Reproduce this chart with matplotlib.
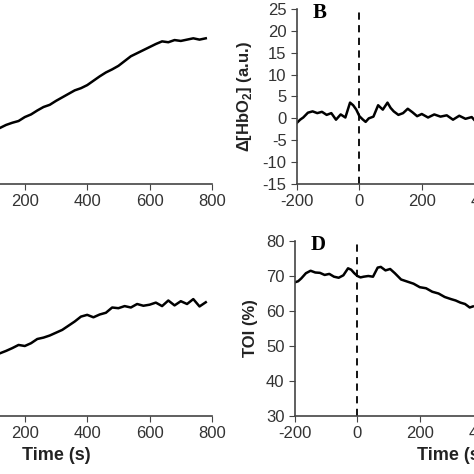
import matplotlib
matplotlib.use("Agg")
import matplotlib.pyplot as plt

plt.rcParams['font.family'] = ['Liberation Sans', 'DejaVu Sans']
plt.rcParams['axes.unicode_minus'] = False
plt.rcParams['mathtext.fontset'] = 'custom'
plt.rcParams['mathtext.rm'] = 'Liberation Sans'
plt.rcParams['mathtext.bf'] = 'Liberation Sans:bold'

# Panel A (left top)
a_t = [0, 20, 40, 60, 80, 100, 120, 140, 160, 180, 200, 220, 240, 260, 280, 300, 320, 340, 360, 380, 400,
       420, 440, 460, 480, 500, 520, 540, 560, 580, 600, 620, 640, 660, 680, 700, 720, 740, 760, 780]
a_v = [-3.5, -2.8, -3.2, -2.6, -3.0, -2.7, -2.2, -1.5, -1.0, -0.6, 0.3, 0.9, 1.8, 2.6, 3.1, 4.0, 4.8, 5.6, 6.4, 6.9, 7.6,
       8.6, 9.6, 10.5, 11.2, 12.0, 13.1, 14.2, 14.9, 15.6, 16.3, 17.0, 17.6, 17.4, 17.9, 17.7, 18.0, 18.3, 18.0, 18.3]

# Panel B (right top)
b_t = [-200, -190, -180, -165, -150, -135, -120, -105, -90, -75, -60, -45, -30, -20, -10, 0, 10, 20, 30, 45,
       60, 75, 90, 100, 110, 125, 140, 155, 170, 185, 200, 220, 240, 260, 280, 300, 320, 340, 360, 370]
b_v = [-1.0, -0.3, 0.2, 1.3, 1.6, 1.2, 1.5, 0.8, 1.2, -0.3, 0.9, 0.2, 3.6, 3.0, 2.0, 0.5, -0.2, -0.8, 0.0, 0.4,
       3.0, 2.0, 3.6, 2.4, 1.6, 0.8, 1.2, 2.2, 1.4, 0.5, 1.0, 0.2, 0.9, 0.4, 0.7, -0.3, 0.6, -0.1, 0.3, -0.5]

# Panel C (left bottom)
c_t = [0, 20, 40, 60, 80, 100, 120, 140, 160, 180, 200, 220, 240, 260, 280, 300, 320, 340, 360, 380, 400,
       420, 440, 460, 480, 500, 520, 540, 560, 580, 600, 620, 640, 660, 680, 700, 720, 740, 760, 780]
c_v = [47.5, 48.0, 47.2, 48.3, 47.6, 48.2, 47.9, 48.6, 49.4, 50.3, 50.0, 50.8, 52.0, 52.4, 53.0, 53.8, 54.6, 55.8, 57.0, 58.4, 58.9,
       58.2, 59.0, 59.5, 61.0, 60.8, 61.4, 61.0, 62.0, 61.5, 61.8, 62.4, 61.4, 63.0, 61.6, 62.8, 62.0, 63.4, 61.3, 62.5]

# Panel D (right bottom)
d_t = [-200, -190, -180, -165, -150, -135, -120, -105, -90, -75, -60, -45, -30, -20, -10, 0, 10, 20, 35, 50,
       65, 75, 90, 105, 120, 140, 160, 180, 200, 220, 240, 260, 280, 300, 315, 330, 345, 360, 370]
d_v = [68.2, 68.5, 69.3, 70.8, 71.5, 71.0, 70.9, 70.3, 70.6, 69.8, 69.5, 70.2, 72.2, 71.8, 70.8, 70.0, 69.6, 69.8, 70.0, 69.8,
       72.4, 72.6, 71.6, 72.0, 70.8, 69.0, 68.4, 67.8, 66.8, 66.5, 65.5, 65.0, 64.0, 63.4, 63.0, 62.4, 62.0, 61.0, 61.3]

W = 474
fig = plt.figure(figsize=(4.74, 4.74), dpi=100)

def mk(left_px, top_px, bottom_px, width_px):
    return fig.add_axes([left_px / W, 1 - bottom_px / W, width_px / W, (bottom_px - top_px) / W])

axA = mk(-100, 9, 184, 312)
axB = mk(297, 9, 184, 312)
axC = mk(-100, 241, 416, 312)
axD = mk(295, 241, 416, 312)

for ax, t, v, yl, yt in [(axA, a_t, a_v, (-15, 25), range(-15, 26, 5)),
                         (axB, b_t, b_v, (-15, 25), range(-15, 26, 5)),
                         (axC, c_t, c_v, (30, 80), range(30, 81, 10)),
                         (axD, d_t, d_v, (30, 80), range(30, 81, 10))]:
    ax.plot(t, v, color='black', lw=1.8)
    ax.set_xlim(-200, 800)
    ax.set_ylim(*yl)
    ax.set_yticks(list(yt))
    ax.set_xticks([-200, 0, 200, 400, 600, 800])
    for s in ['top', 'right']:
        ax.spines[s].set_visible(False)
    for s in ['left', 'bottom']:
        ax.spines[s].set_color('#444444')
        ax.spines[s].set_linewidth(1.2)
    ax.tick_params(labelsize=12, length=4, color='#444444', labelcolor='#333333')

for ax in (axB, axD):
    ax.axvline(0, color='black', ls='--', lw=1.3, dashes=(4, 3))

axB.set_ylabel(r'$\mathbf{\Delta}$[HbO$_\mathbf{2}$] (a.u.)', fontsize=12, fontweight='bold', color='#222222', labelpad=6)
axD.set_ylabel('TOI (%)', fontsize=12, fontweight='bold', color='#222222', labelpad=6)
axC.set_xlabel('Time (s)', fontsize=13, fontweight='bold', color='#222222')
axD.set_xlabel('Time (s)', fontsize=13, fontweight='bold', color='#222222')

axB.text(-150, 24.0, 'B', fontsize=15, fontweight='bold', family='Liberation Serif', va='center')
axD.text(-150, 79.0, 'D', fontsize=15, fontweight='bold', family='Liberation Serif', va='center')

fig.savefig('out.png', dpi=100)
